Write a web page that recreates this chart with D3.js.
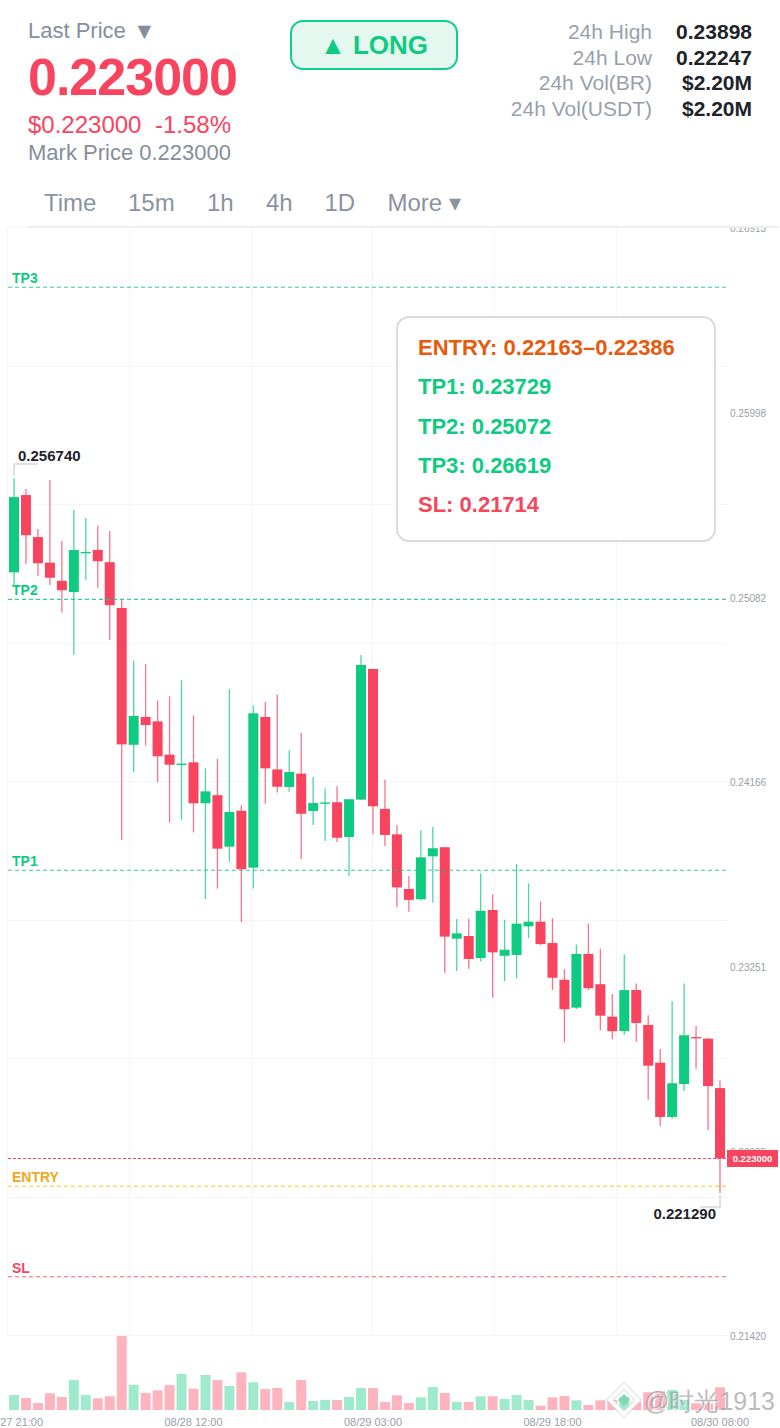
<!DOCTYPE html>
<html><head><meta charset="utf-8">
<script src="https://cdn.jsdelivr.net/npm/d3@7/dist/d3.min.js"></script>
<style>html,body{margin:0;padding:0;background:#fff}svg{display:block}text{font-family:"Liberation Sans",Arial,sans-serif}</style>
</head><body><svg id="c" width="780" height="1428"></svg>
<script>
const opens=[0.25206,0.25589,0.25381,0.25254,0.25164,0.25108,0.25302,0.25317,0.25256,0.25029,0.24351,0.24489,0.24467,0.24302,0.24251,0.24264,0.24061,0.24101,0.23846,0.24024,0.23742,0.24489,0.24229,0.24142,0.24208,0.24023,0.24060,0.24066,0.23894,0.24079,0.24727,0.24033,0.23907,0.23636,0.23585,0.23798,0.23843,0.23390,0.23403,0.23294,0.23532,0.23305,0.23309,0.23451,0.23474,0.23368,0.23186,0.23048,0.23314,0.23164,0.23003,0.22932,0.23135,0.22962,0.22775,0.22506,0.22669,0.22902,0.22894,0.22649];
const highs=[0.25674,0.25619,0.25421,0.25664,0.25361,0.25516,0.25475,0.25437,0.25411,0.25069,0.24768,0.24752,0.24570,0.24591,0.24672,0.24497,0.24234,0.24281,0.24626,0.24051,0.24547,0.24563,0.24599,0.24324,0.24411,0.24191,0.24135,0.24145,0.24081,0.24796,0.24727,0.24178,0.23952,0.23700,0.23927,0.23943,0.23843,0.23487,0.23489,0.23714,0.23610,0.23484,0.23760,0.23664,0.23573,0.23491,0.23239,0.23360,0.23464,0.23340,0.23115,0.23312,0.23168,0.23010,0.22843,0.23079,0.23168,0.22957,0.22899,0.22688];
const lows=[0.25138,0.25247,0.25188,0.25143,0.25006,0.24796,0.25169,0.25130,0.24870,0.23879,0.24216,0.24346,0.24166,0.23965,0.23980,0.23917,0.23586,0.23638,0.23771,0.23472,0.23638,0.24059,0.24115,0.24117,0.23785,0.23953,0.23874,0.23869,0.23700,0.24079,0.23907,0.23849,0.23545,0.23523,0.23580,0.23568,0.23221,0.23230,0.23241,0.23276,0.23096,0.23180,0.23193,0.23393,0.23358,0.23135,0.22876,0.23041,0.23135,0.22936,0.22891,0.22914,0.22879,0.22591,0.22460,0.22497,0.22635,0.22745,0.22440,0.22129];
const closes=[0.25579,0.25390,0.25251,0.25179,0.25117,0.25317,0.25307,0.25261,0.25043,0.24353,0.24494,0.24449,0.24294,0.24252,0.24258,0.24061,0.24120,0.23836,0.24018,0.23734,0.24507,0.24234,0.24143,0.24216,0.24009,0.24062,0.24065,0.23890,0.24081,0.24747,0.24046,0.23904,0.23644,0.23582,0.23793,0.23838,0.23400,0.23416,0.23289,0.23528,0.23322,0.23335,0.23464,0.23474,0.23363,0.23196,0.23040,0.23314,0.23144,0.23008,0.22931,0.23135,0.22972,0.22760,0.22506,0.22673,0.22911,0.22896,0.22659,0.22300];
const volumes=[15,12,7,16.7,13,30,15,11.7,13.7,74,25.3,17,19.7,25,36,21.3,35,30,24,37.7,27.7,21,22,8,30,9,10,10,13,22,22,8,14.7,7,12.7,23,17,8,8,13.7,13.7,11,15,10,4.3,12.7,14,9.7,5,9.7,10,13,8,17.7,18.7,20,10,6.7,6.7,22.7];
const priceTicks=[0.26913,0.25998,0.25082,0.24166,0.23251,0.22335,0.21420];
const timeLabels=[[0,"08/27 21:00"],[15,"08/28 12:00"],[30,"08/29 03:00"],[45,"08/29 18:00"],[59,"08/30 08:00"]];
const levels=[["TP3",0.26619,"#0ecb81"],["TP2",0.25072,"#0ecb81"],["TP1",0.23729,"#0ecb81"],["ENTRY",0.22163,"#fcd34d"],["SL",0.21714,"#f6465d"]];
const levelLabelColor={TP3:"#0ecb81",TP2:"#0ecb81",TP1:"#0ecb81",ENTRY:"#f0a81c",SL:"#f6465d"};
const legendRows=[["ENTRY: 0.22163–0.22386","#e8590c"],["TP1: 0.23729","#0ecb81"],["TP2: 0.25072","#0ecb81"],["TP3: 0.26619","#0ecb81"],["SL: 0.21714","#f6465d"]];
const stats=[["24h High","0.23898"],["24h Low","0.22247"],["24h Vol(BR)","$2.20M"],["24h Vol(USDT)","$2.20M"]];
const tabs=[["Time",44],["15m",128],["1h",207],["4h",266],["1D",324.5],["More ▾",387.5]];
const lastPrice=0.223;
const RED="#f9445f",GREEN="#0ecb81",GRAY="#848e9c";

const svg=d3.select("#c");
const n=opens.length;
const x=d3.scaleLinear().domain([0,59]).range([14,720]);
const y=d3.scaleLinear().domain([0.26913,0.21420]).range([228,1336]);
const v=d3.scaleLinear().domain([0,74]).range([1410,1336]);
const bw=10;

// grid
const grid=svg.append("g").attr("stroke","#f4f5f6").attr("stroke-width",1).attr("fill","none");
d3.range(9).forEach(i=>{const yy=Math.round(228+i*(1336-228)/8)-.5;grid.append("line").attr("x1",8).attr("x2",727).attr("y1",yy).attr("y2",yy)});
d3.range(6).forEach(i=>{const xx=Math.round(8+i*121.8)-.5;grid.append("line").attr("x1",xx).attr("x2",xx).attr("y1",228).attr("y2",1336)});

// price axis
const ay=svg.append("g").attr("transform","translate(730,0.6)").call(d3.axisRight(y).tickValues(priceTicks).tickSize(0).tickPadding(0).tickFormat(d3.format(".5f")));
ay.select(".domain").remove();
ay.selectAll("text").attr("fill","#9aa0a8").style("font-size","10px").style("font-family",'"Liberation Sans"');

// volume
svg.append("g").selectAll("rect").data(volumes).join("rect")
 .attr("x",(d,i)=>x(i)-bw/2).attr("width",bw).attr("y",d=>v(d)).attr("height",d=>1410-v(d))
 .attr("fill",(d,i)=>closes[i]>=opens[i]?GREEN:RED).attr("opacity",.4);

// candles
const cg=svg.append("g").selectAll("g").data(d3.range(n)).join("g").attr("fill",i=>closes[i]>=opens[i]?GREEN:RED).attr("stroke",i=>closes[i]>=opens[i]?GREEN:RED);
cg.append("line").attr("x1",i=>x(i)).attr("x2",i=>x(i)).attr("y1",i=>y(highs[i])).attr("y2",i=>y(lows[i])).attr("stroke-width",1.3).attr("stroke-opacity",.75);
cg.append("rect").attr("x",i=>x(i)-bw/2).attr("width",bw).attr("stroke","none")
 .attr("y",i=>y(Math.max(opens[i],closes[i]))).attr("height",i=>Math.max(1.3,Math.abs(y(opens[i])-y(closes[i]))));

// level lines
levels.forEach(([name,p,col])=>{
 svg.append("line").attr("x1",8).attr("x2",727).attr("y1",y(p)).attr("y2",y(p)).attr("stroke",col).attr("stroke-width",name==="ENTRY"?1.5:1.1).attr("stroke-dasharray","4 3").attr("opacity",.85);
 svg.append("text").attr("x",12).attr("y",y(p)-4).attr("fill",levelLabelColor[name]).attr("font-size",14).attr("font-weight",700).text(name);
});
// last price line + tag
svg.append("line").attr("x1",8).attr("x2",727).attr("y1",y(lastPrice)).attr("y2",y(lastPrice)).attr("stroke",RED).attr("stroke-width",1).attr("stroke-dasharray","3 2");
svg.append("rect").attr("x",727).attr("y",y(lastPrice)-8.5).attr("width",51).attr("height",17).attr("fill",RED);
svg.append("text").attr("x",752.5).attr("y",y(lastPrice)+3.5).attr("text-anchor","middle").attr("fill","#fff").attr("font-size",9.5).attr("font-weight",700).text("0.223000");

// high / low labels
const br=svg.append("g").attr("fill","none").attr("stroke","#d3d6da").attr("stroke-width",1.5);
br.append("path").attr("d",d3.line()([[x(0),y(0.25674)-2],[x(0),464],[38,464]]));
br.append("path").attr("d",d3.line()([[x(59),y(0.22129)+2],[x(59),1207],[700,1207]]));
svg.append("text").attr("x",18).attr("y",460.5).attr("fill","#1e2329").attr("font-size",15).attr("font-weight",700).text("0.256740");
svg.append("text").attr("x",716).attr("y",1219).attr("text-anchor","end").attr("fill","#1e2329").attr("font-size",15).attr("font-weight",700).text("0.221290");

// time axis
const tl=svg.append("g").attr("fill","#9aa0a8").attr("font-size",11);
timeLabels.forEach(([i,t])=>tl.append("text").attr("x",x(i)).attr("y",1426).attr("text-anchor","middle").text(t));

// legend box
svg.append("rect").attr("x",397).attr("y",317).attr("width",318).attr("height",224).attr("rx",12).attr("fill","#fff").attr("stroke","#d9dcdf").attr("stroke-width",2);
legendRows.forEach(([t,c],i)=>svg.append("text").attr("x",418).attr("y",[355,394,434,472.5,512][i]).attr("fill",c).attr("font-size",22).attr("font-weight",700).text(t));

// header
svg.append("rect").attr("x",0).attr("y",0).attr("width",780).attr("height",227).attr("fill","#fff");
svg.append("rect").attr("x",28).attr("y",226).attr("width",750).attr("height",2).attr("fill","#eceef0");
const T=(t,xx,yy,s,c,w,a)=>svg.append("text").attr("x",xx).attr("y",yy).attr("font-size",s).attr("fill",c).attr("font-weight",w||400).attr("text-anchor",a||"start").text(t);
T("Last Price",28,38,22,GRAY);T("▼",133,38.5,23,GRAY);
T("0.223000",28,94.5,52,RED,700).attr("letter-spacing",-1);
T("$0.223000",28,132.5,24,RED);T("-1.58%",155,132.5,24,RED);
T("Mark Price 0.223000",28,160,22,GRAY);
svg.append("rect").attr("x",291).attr("y",21).attr("width",166).attr("height",48).attr("rx",12).attr("fill","#e4f8f0").attr("stroke","#10cf88").attr("stroke-width",2);
T("▲ LONG",374,54,26,GREEN,700,"middle");
stats.forEach(([l,val],i)=>{const yy=[38.5,64.5,90,116][i];T(l,652,yy,21,"#98a0ac",400,"end");T(val,752,yy,21,"#1e2329",700,"end")});
tabs.forEach(([t,xx])=>T(t,xx,210.5,24,"#8a93a0"));

// watermark
const wm=svg.append("g").attr("transform","translate(624,1400)");
wm.append("path").attr("d","M0,-14L14,0L0,14L-14,0Z").attr("fill","none").attr("stroke","#d8dadd").attr("stroke-width",6).attr("opacity",.7);
wm.append("path").attr("d","M0,-14L14,0L0,14L-14,0Z").attr("fill","none").attr("stroke","#fff").attr("stroke-width",3.5);
wm.append("path").attr("d","M0,-6L6,0L0,6L-6,0Z").attr("fill","#7fd8b5");
const wt=svg.append("g").style("font-family",'"Noto Sans CJK SC","Liberation Sans"').attr("font-size",25);
wt.append("text").attr("x",645).attr("y",1411).attr("fill","#fff").attr("opacity",.75).text("@时光1913");
wt.append("text").attr("x",644).attr("y",1410).attr("fill","#8f8f94").attr("opacity",.6).text("@时光1913");
</script></body></html>
